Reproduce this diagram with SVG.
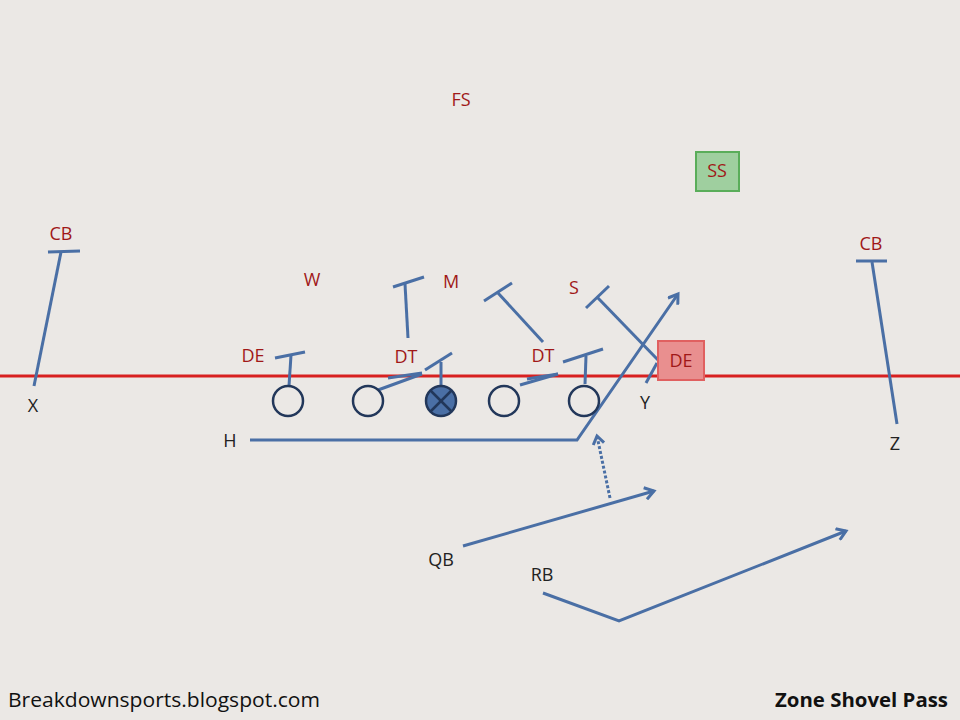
<svg xmlns="http://www.w3.org/2000/svg" width="960" height="720" viewBox="0 0 960 720">
<defs>
<marker id="arr" markerWidth="14" markerHeight="14" refX="11" refY="7" orient="auto" markerUnits="userSpaceOnUse">
<polyline points="2,1 11,7 2,13" fill="none" stroke="#4a6fa5" stroke-width="3"/>
</marker>
<marker id="arrd" markerWidth="14" markerHeight="14" refX="11" refY="7" orient="auto" markerUnits="userSpaceOnUse">
<polyline points="3,1.5 11,7 3,12.5" fill="none" stroke="#4a6fa5" stroke-width="3"/>
</marker>
</defs>
<style>
.ln{stroke:#4a6fa5;stroke-width:3;fill:none;stroke-linecap:butt}
.def{font-family:"Open Sans","Liberation Sans",sans-serif;font-size:18px;fill:#a01818;text-anchor:middle}
.off{font-family:"Open Sans","Liberation Sans",sans-serif;font-size:18px;fill:#222;text-anchor:middle}
.ol{fill:none;stroke:#22375a;stroke-width:2.5}
</style>
<rect width="960" height="720" fill="#ebe8e5"/>
<line x1="0" y1="376" x2="960" y2="376" stroke="#d82020" stroke-width="3"/>

<g id="connectors">
<line class="ln" x1="48" y1="252" x2="80" y2="251"/>
<line class="ln" x1="61" y1="252" x2="34" y2="386"/>
<line class="ln" x1="856" y1="261" x2="887" y2="261"/>
<line class="ln" x1="872" y1="262" x2="897" y2="424"/>
<line class="ln" x1="289" y1="386" x2="291" y2="355"/>
<line class="ln" x1="275" y1="358" x2="305" y2="352"/>
<line class="ln" x1="378" y1="390" x2="422" y2="374"/>
<line class="ln" x1="388" y1="378" x2="422" y2="373"/>
<line class="ln" x1="441" y1="385" x2="441" y2="362"/>
<line class="ln" x1="425" y1="370" x2="452" y2="353"/>
<line class="ln" x1="520" y1="385" x2="558" y2="374"/>
<line class="ln" x1="527" y1="379" x2="558" y2="374"/>
<line class="ln" x1="585" y1="384" x2="586" y2="356"/>
<line class="ln" x1="563" y1="362" x2="603" y2="349"/>
<line class="ln" x1="646" y1="383" x2="657" y2="363"/>
<line class="ln" x1="408" y1="338" x2="405" y2="284"/>
<line class="ln" x1="393" y1="287" x2="424" y2="277"/>
<line class="ln" x1="543" y1="342" x2="498" y2="293"/>
<line class="ln" x1="484" y1="301" x2="512" y2="283"/>
<line class="ln" x1="658" y1="360" x2="597" y2="297"/>
<line class="ln" x1="586" y1="308" x2="609" y2="286"/>
<polyline class="ln" points="250,440 577,440 678,294" marker-end="url(#arr)"/>
<line class="ln" x1="463" y1="546" x2="654" y2="491" marker-end="url(#arr)"/>
<line x1="610" y1="498" x2="597" y2="436" stroke="#4a6fa5" stroke-width="3" stroke-dasharray="3,2" marker-end="url(#arrd)"/>
<polyline class="ln" points="543,593 619,621 846,531" marker-end="url(#arr)"/>
</g>

<g id="LT"><circle class="ol" cx="288" cy="401" r="15"/></g>
<g id="LG"><circle class="ol" cx="368" cy="401" r="15"/></g>
<g id="C"><circle cx="441" cy="401" r="15" fill="#4a6fa5" stroke="#22375a" stroke-width="2.5"/><line x1="430.5" y1="390.5" x2="451.5" y2="411.5" stroke="#22375a" stroke-width="2.5"/><line x1="451.5" y1="390.5" x2="430.5" y2="411.5" stroke="#22375a" stroke-width="2.5"/></g>
<g id="RG"><circle class="ol" cx="504" cy="401" r="15"/></g>
<g id="RT"><circle class="ol" cx="584" cy="401" r="15"/></g>

<g id="FS"><text class="def" x="461" y="106">FS</text></g>
<g id="SS"><rect x="696" y="152" width="43" height="39" fill="#9fcf9f" stroke="#5aad5a" stroke-width="2"/><text class="def" x="717" y="177">SS</text></g>
<g id="CBL"><text class="def" x="61" y="240">CB</text></g>
<g id="CBR"><text class="def" x="871" y="250">CB</text></g>
<g id="W"><text class="def" x="312" y="286">W</text></g>
<g id="M"><text class="def" x="451" y="288">M</text></g>
<g id="S"><text class="def" x="574" y="294">S</text></g>
<g id="DEL"><text class="def" x="253" y="362">DE</text></g>
<g id="DTL"><text class="def" x="406" y="363">DT</text></g>
<g id="DTR"><text class="def" x="543" y="362">DT</text></g>
<g id="DER"><rect x="658" y="341" width="46" height="39" fill="#e98f8f" stroke="#e06060" stroke-width="2"/><text class="def" x="681" y="367">DE</text></g>

<g id="X"><text class="off" x="33" y="412">X</text></g>
<g id="Y"><text class="off" x="645" y="409">Y</text></g>
<g id="Z"><text class="off" x="895" y="450">Z</text></g>
<g id="H"><text class="off" x="230" y="447">H</text></g>
<g id="QB"><text class="off" x="441" y="566">QB</text></g>
<g id="RB"><text class="off" x="542" y="581">RB</text></g>

<text x="8" y="707" font-family="Open Sans, Liberation Sans, sans-serif" font-size="20" fill="#111" textLength="312" lengthAdjust="spacingAndGlyphs">Breakdownsports.blogspot.com</text>
<text x="948" y="707" font-family="Open Sans, Liberation Sans, sans-serif" font-size="20" font-weight="bold" fill="#111" text-anchor="end" textLength="173" lengthAdjust="spacingAndGlyphs">Zone Shovel Pass</text>
</svg>
